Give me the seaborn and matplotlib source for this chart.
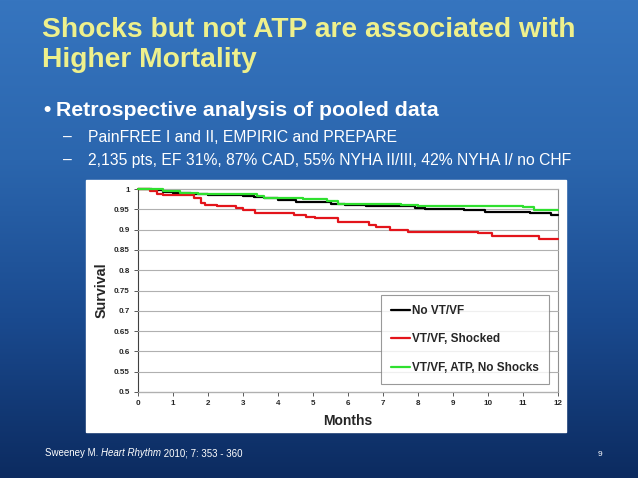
import matplotlib
matplotlib.use("Agg")
import matplotlib.pyplot as plt
import seaborn as sns
import numpy as np
import pandas as pd

# Curvas de sobrevida (Kaplan-Meier)
no_vtvf_t = [0, 0.4, 0.7, 1.0, 1.5, 2.0, 2.6, 3.0, 3.3, 3.6, 4.0, 4.5, 5.0, 5.5, 5.9, 6.5, 7.4, 7.9, 8.2, 9.3, 9.9, 11.2, 11.8, 12]
no_vtvf_s = [1.0, 0.997, 0.993, 0.990, 0.988, 0.986, 0.984, 0.983, 0.980, 0.977, 0.974, 0.969, 0.967, 0.963, 0.961, 0.959, 0.957, 0.953, 0.950, 0.948, 0.943, 0.941, 0.937, 0.937]

shocked_t = [0, 0.35, 0.53, 0.72, 1.6, 1.8, 1.9, 2.25, 2.8, 3.0, 3.35, 4.45, 4.8, 5.05, 5.7, 6.6, 6.8, 7.2, 7.7, 9.7, 10.1, 11.45, 12]
shocked_s = [1.0, 0.994, 0.988, 0.984, 0.977, 0.965, 0.961, 0.957, 0.952, 0.948, 0.941, 0.935, 0.931, 0.928, 0.919, 0.912, 0.906, 0.900, 0.895, 0.891, 0.884, 0.877, 0.877]

atp_t = [0, 0.72, 1.2, 1.7, 3.4, 3.6, 4.7, 5.4, 5.7, 7.5, 8.0, 11.0, 11.3, 12]
atp_s = [1.0, 0.994, 0.990, 0.988, 0.982, 0.978, 0.975, 0.970, 0.964, 0.961, 0.959, 0.955, 0.949, 0.949]

series_names = ["No VT/VF", "VT/VF, Shocked", "VT/VF, ATP, No Shocks"]
series_colors = ["#000000", "#e3141b", "#2fe02f"]

y_ticks = [0.5, 0.55, 0.6, 0.65, 0.7, 0.75, 0.8, 0.85, 0.9, 0.95, 1]
y_tick_labels = ["0.5", "0.55", "0.6", "0.65", "0.7", "0.75", "0.8", "0.85", "0.9", "0.95", "1"]
x_ticks = list(range(0, 13))

df = pd.concat([
    pd.DataFrame({"Months": no_vtvf_t, "Survival": no_vtvf_s, "Grupo": series_names[0]}),
    pd.DataFrame({"Months": shocked_t, "Survival": shocked_s, "Grupo": series_names[1]}),
    pd.DataFrame({"Months": atp_t, "Survival": atp_s, "Grupo": series_names[2]}),
])

sns.set_style("white")
plt.rcParams["font.family"] = ["Liberation Sans", "DejaVu Sans"]

fig = plt.figure(figsize=(6.38, 4.78), dpi=100)

# Fundo azul do slide (gradiente vertical)
bg = fig.add_axes([0, 0, 1, 1])
grad = np.linspace(0, 1, 256).reshape(-1, 1)
cmap = matplotlib.colors.LinearSegmentedColormap.from_list(
    "slide", ["#3675bf", "#2b66ae", "#1a4a8f", "#0c2b60"])
bg.imshow(grad, aspect="auto", cmap=cmap, extent=[0, 1, 0, 1])
bg.set_xlim(0, 1)
bg.set_ylim(0, 1)
bg.axis("off")

# Painel branco do gráfico
bg.add_patch(plt.Rectangle((86 / 638, 1 - 432 / 478), (566 - 86) / 638, (432 - 180) / 478,
                           color="white", zorder=2))

# Textos do slide
yellow = "#eef08c"
fig.text(42 / 638, 1 - 30 / 478, "Shocks but not ATP are associated with", color=yellow,
         fontsize=20.3, fontweight="bold", va="center", ha="left")
fig.text(42 / 638, 1 - 60 / 478, "Higher Mortality", color=yellow,
         fontsize=20.3, fontweight="bold", va="center", ha="left")
fig.text(43 / 638, 1 - 111 / 478, "•", color="white", fontsize=15, fontweight="bold", va="center")
fig.text(56 / 638, 1 - 111 / 478, "Retrospective analysis of pooled data", color="white",
         fontsize=15.3, fontweight="bold", va="center", ha="left")
fig.text(63 / 638, 1 - 137 / 478, "–", color="white", fontsize=11.3, va="center")
fig.text(88 / 638, 1 - 137 / 478, "PainFREE I and II, EMPIRIC and PREPARE", color="white",
         fontsize=11.3, va="center", ha="left")
fig.text(63 / 638, 1 - 160 / 478, "–", color="white", fontsize=11.3, va="center")
fig.text(88 / 638, 1 - 160 / 478, "2,135 pts, EF 31%, 87% CAD, 55% NYHA II/III, 42% NYHA I/ no CHF",
         color="white", fontsize=11.3, va="center", ha="left")

# Rodapé: partes em sequência (a revista em itálico)
renderer = fig.canvas.get_renderer()
x_pos = 45
for parte, estilo in [("Sweeney M. ", "normal"), ("Heart Rhythm", "italic"), (" 2010; 7: 353 - 360", "normal")]:
    t = fig.text(x_pos / 638, 1 - 453 / 478, parte, color="white", fontsize=7, style=estilo, va="center")
    x_pos = t.get_window_extent(renderer).x1
fig.text(598 / 638, 1 - 455 / 478, "9", color="white", fontsize=6, va="center")

# Área do gráfico
ax = fig.add_axes([138 / 638, 1 - 392 / 478, 420 / 638, 203 / 478])
ax.set_facecolor("white")
for y in y_ticks:
    ax.axhline(y, color="#b0b0b0", linewidth=0.8, zorder=0)

sns.lineplot(data=df, x="Months", y="Survival", hue="Grupo", palette=series_colors,
             hue_order=series_names, estimator=None, drawstyle="steps-post",
             linewidth=1.6, ax=ax)
for line in ax.get_lines():
    line.set_clip_on(False)
    line.set_zorder(5)

ax.set_xlim(0, 12)
ax.set_ylim(0.5, 1)
ax.set_xticks(x_ticks)
ax.set_xticklabels([str(t) for t in x_ticks], fontsize=5.8, fontweight="bold")
ax.set_yticks(y_ticks)
ax.set_yticklabels(y_tick_labels, fontsize=5.8, fontweight="bold")
ax.tick_params(axis="both", direction="out", length=3, width=0.6, color="#404040", pad=3)
ax.tick_params(axis="x", bottom=True)
ax.tick_params(axis="y", left=True)

for side in ["top", "right"]:
    ax.spines[side].set_color("#909090")
    ax.spines[side].set_linewidth(0.8)
for side in ["left", "bottom"]:
    ax.spines[side].set_color("#404040")
    ax.spines[side].set_linewidth(0.8)

ax.set_xlabel("Months", fontsize=10, fontweight="bold", labelpad=5)
ax.set_ylabel("Survival", fontsize=10.3, fontweight="bold", labelpad=4)

leg = ax.legend(loc="lower right", bbox_to_anchor=(411 / 420, 8 / 203), fontsize=8.5, frameon=True,
                fancybox=False, edgecolor="#808080", handlelength=1.6, handletextpad=0.2,
                labelspacing=1.4, borderpad=0.85, borderaxespad=0)
leg.get_frame().set_linewidth(0.8)
leg.set_zorder(10)
for txt in leg.get_texts():
    txt.set_fontweight("bold")

fig.savefig("out.png", dpi=100)
